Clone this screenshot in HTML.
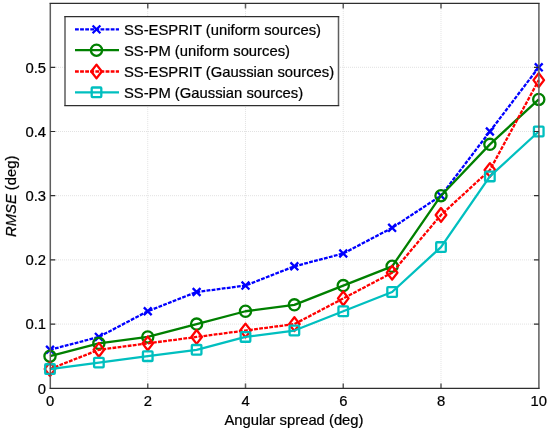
<!DOCTYPE html>
<html><head><meta charset="utf-8"><style>
html,body{margin:0;padding:0;background:#fff;}
svg{display:block;}
text{font-family:"Liberation Sans",Arial,sans-serif;font-size:14.8px;fill:#000;stroke:#000;stroke-width:0.22px;}
</style></head><body>
<svg width="550" height="431" viewBox="0 0 550 431">
<rect width="550" height="431" fill="#fff"/>
<g stroke="#e2e2e2" stroke-width="1" stroke-dasharray="1 1"><line x1="147.75" y1="3.1" x2="147.75" y2="388.3"/><line x1="245.50" y1="3.1" x2="245.50" y2="388.3"/><line x1="343.25" y1="3.1" x2="343.25" y2="388.3"/><line x1="441.00" y1="3.1" x2="441.00" y2="388.3"/><line x1="50.0" y1="324.10" x2="538.75" y2="324.10"/><line x1="50.0" y1="259.90" x2="538.75" y2="259.90"/><line x1="50.0" y1="195.70" x2="538.75" y2="195.70"/><line x1="50.0" y1="131.50" x2="538.75" y2="131.50"/><line x1="50.0" y1="67.30" x2="538.75" y2="67.30"/></g>
<polyline points="50.00,349.78 98.88,336.94 147.75,311.26 196.62,292.00 245.50,285.58 294.38,266.32 343.25,253.48 392.12,227.80 441.00,195.70 489.88,131.50 538.75,67.30" fill="none" stroke="#0000ff" stroke-width="2.3" stroke-dasharray="3.8 1.3" stroke-linejoin="round"/>
<path d="M46.10,345.88L53.90,353.68M46.10,353.68L53.90,345.88" stroke="#0000ff" stroke-width="2.3" fill="none"/>
<path d="M94.97,333.04L102.78,340.84M94.97,340.84L102.78,333.04" stroke="#0000ff" stroke-width="2.3" fill="none"/>
<path d="M143.85,307.36L151.65,315.16M143.85,315.16L151.65,307.36" stroke="#0000ff" stroke-width="2.3" fill="none"/>
<path d="M192.72,288.10L200.53,295.90M192.72,295.90L200.53,288.10" stroke="#0000ff" stroke-width="2.3" fill="none"/>
<path d="M241.60,281.68L249.40,289.48M241.60,289.48L249.40,281.68" stroke="#0000ff" stroke-width="2.3" fill="none"/>
<path d="M290.48,262.42L298.27,270.22M290.48,270.22L298.27,262.42" stroke="#0000ff" stroke-width="2.3" fill="none"/>
<path d="M339.35,249.58L347.15,257.38M339.35,257.38L347.15,249.58" stroke="#0000ff" stroke-width="2.3" fill="none"/>
<path d="M388.23,223.90L396.02,231.70M388.23,231.70L396.02,223.90" stroke="#0000ff" stroke-width="2.3" fill="none"/>
<path d="M437.10,191.80L444.90,199.60M437.10,199.60L444.90,191.80" stroke="#0000ff" stroke-width="2.3" fill="none"/>
<path d="M485.98,127.60L493.77,135.40M485.98,135.40L493.77,127.60" stroke="#0000ff" stroke-width="2.3" fill="none"/>
<path d="M534.85,63.40L542.65,71.20M534.85,71.20L542.65,63.40" stroke="#0000ff" stroke-width="2.3" fill="none"/>
<polyline points="50.00,356.20 98.88,343.36 147.75,336.94 196.62,324.10 245.50,311.26 294.38,304.84 343.25,285.58 392.12,266.32 441.00,195.70 489.88,144.34 538.75,99.40" fill="none" stroke="#008000" stroke-width="2.3" stroke-linejoin="round"/>
<circle cx="50.00" cy="356.20" r="5.6" stroke="#008000" stroke-width="2.3" fill="none"/>
<circle cx="98.88" cy="343.36" r="5.6" stroke="#008000" stroke-width="2.3" fill="none"/>
<circle cx="147.75" cy="336.94" r="5.6" stroke="#008000" stroke-width="2.3" fill="none"/>
<circle cx="196.62" cy="324.10" r="5.6" stroke="#008000" stroke-width="2.3" fill="none"/>
<circle cx="245.50" cy="311.26" r="5.6" stroke="#008000" stroke-width="2.3" fill="none"/>
<circle cx="294.38" cy="304.84" r="5.6" stroke="#008000" stroke-width="2.3" fill="none"/>
<circle cx="343.25" cy="285.58" r="5.6" stroke="#008000" stroke-width="2.3" fill="none"/>
<circle cx="392.12" cy="266.32" r="5.6" stroke="#008000" stroke-width="2.3" fill="none"/>
<circle cx="441.00" cy="195.70" r="5.6" stroke="#008000" stroke-width="2.3" fill="none"/>
<circle cx="489.88" cy="144.34" r="5.6" stroke="#008000" stroke-width="2.3" fill="none"/>
<circle cx="538.75" cy="99.40" r="5.6" stroke="#008000" stroke-width="2.3" fill="none"/>
<polyline points="50.00,369.04 98.88,349.78 147.75,343.36 196.62,336.94 245.50,330.52 294.38,324.10 343.25,298.42 392.12,272.74 441.00,214.96 489.88,170.02 538.75,80.14" fill="none" stroke="#ff0000" stroke-width="2.3" stroke-dasharray="3.8 1.3" stroke-linejoin="round"/>
<path d="M50.00,362.14L55.30,369.04L50.00,375.94L44.70,369.04Z" stroke="#ff0000" stroke-width="2.3" fill="none" stroke-linejoin="round"/>
<path d="M98.88,342.88L104.17,349.78L98.88,356.68L93.58,349.78Z" stroke="#ff0000" stroke-width="2.3" fill="none" stroke-linejoin="round"/>
<path d="M147.75,336.46L153.05,343.36L147.75,350.26L142.45,343.36Z" stroke="#ff0000" stroke-width="2.3" fill="none" stroke-linejoin="round"/>
<path d="M196.62,330.04L201.93,336.94L196.62,343.84L191.32,336.94Z" stroke="#ff0000" stroke-width="2.3" fill="none" stroke-linejoin="round"/>
<path d="M245.50,323.62L250.80,330.52L245.50,337.42L240.20,330.52Z" stroke="#ff0000" stroke-width="2.3" fill="none" stroke-linejoin="round"/>
<path d="M294.38,317.20L299.68,324.10L294.38,331.00L289.07,324.10Z" stroke="#ff0000" stroke-width="2.3" fill="none" stroke-linejoin="round"/>
<path d="M343.25,291.52L348.55,298.42L343.25,305.32L337.95,298.42Z" stroke="#ff0000" stroke-width="2.3" fill="none" stroke-linejoin="round"/>
<path d="M392.12,265.84L397.43,272.74L392.12,279.64L386.82,272.74Z" stroke="#ff0000" stroke-width="2.3" fill="none" stroke-linejoin="round"/>
<path d="M441.00,208.06L446.30,214.96L441.00,221.86L435.70,214.96Z" stroke="#ff0000" stroke-width="2.3" fill="none" stroke-linejoin="round"/>
<path d="M489.88,163.12L495.18,170.02L489.88,176.92L484.57,170.02Z" stroke="#ff0000" stroke-width="2.3" fill="none" stroke-linejoin="round"/>
<path d="M538.75,73.24L544.05,80.14L538.75,87.04L533.45,80.14Z" stroke="#ff0000" stroke-width="2.3" fill="none" stroke-linejoin="round"/>
<polyline points="50.00,369.04 98.88,362.62 147.75,356.20 196.62,349.78 245.50,336.94 294.38,330.52 343.25,311.26 392.12,292.00 441.00,247.06 489.88,176.44 538.75,131.50" fill="none" stroke="#00bfbf" stroke-width="2.3" stroke-linejoin="round"/>
<rect x="45.20" y="364.24" width="9.60" height="9.60" stroke="#00bfbf" stroke-width="2.3" fill="none" rx="0.8"/>
<rect x="94.08" y="357.82" width="9.60" height="9.60" stroke="#00bfbf" stroke-width="2.3" fill="none" rx="0.8"/>
<rect x="142.95" y="351.40" width="9.60" height="9.60" stroke="#00bfbf" stroke-width="2.3" fill="none" rx="0.8"/>
<rect x="191.82" y="344.98" width="9.60" height="9.60" stroke="#00bfbf" stroke-width="2.3" fill="none" rx="0.8"/>
<rect x="240.70" y="332.14" width="9.60" height="9.60" stroke="#00bfbf" stroke-width="2.3" fill="none" rx="0.8"/>
<rect x="289.57" y="325.72" width="9.60" height="9.60" stroke="#00bfbf" stroke-width="2.3" fill="none" rx="0.8"/>
<rect x="338.45" y="306.46" width="9.60" height="9.60" stroke="#00bfbf" stroke-width="2.3" fill="none" rx="0.8"/>
<rect x="387.32" y="287.20" width="9.60" height="9.60" stroke="#00bfbf" stroke-width="2.3" fill="none" rx="0.8"/>
<rect x="436.20" y="242.26" width="9.60" height="9.60" stroke="#00bfbf" stroke-width="2.3" fill="none" rx="0.8"/>
<rect x="485.07" y="171.64" width="9.60" height="9.60" stroke="#00bfbf" stroke-width="2.3" fill="none" rx="0.8"/>
<rect x="533.95" y="126.70" width="9.60" height="9.60" stroke="#00bfbf" stroke-width="2.3" fill="none" rx="0.8"/>
<path d="M147.75,388.4V383.4M147.75,3.4V8.4M245.50,388.4V383.4M245.50,3.4V8.4M343.25,388.4V383.4M343.25,3.4V8.4M441.00,388.4V383.4M441.00,3.4V8.4M50.3,3.4V388.4M538.9,3.4V388.4" stroke="#5e5e5e" stroke-width="1.5" fill="none"/>
<path d="M50.3,324.10H55.3M538.9,324.10H533.9M50.3,259.90H55.3M538.9,259.90H533.9M50.3,195.70H55.3M538.9,195.70H533.9M50.3,131.50H55.3M538.9,131.50H533.9M50.3,67.30H55.3M538.9,67.30H533.9M49.55,3.4H539.65M49.55,388.4H539.65" stroke="#2e2e2e" stroke-width="1.2" fill="none"/>
<g><text x="50.00" y="406.3" text-anchor="middle">0</text><text x="147.75" y="406.3" text-anchor="middle">2</text><text x="245.50" y="406.3" text-anchor="middle">4</text><text x="343.25" y="406.3" text-anchor="middle">6</text><text x="441.00" y="406.3" text-anchor="middle">8</text><text x="538.75" y="406.3" text-anchor="middle">10</text><text x="46.1" y="393.50" text-anchor="end">0</text><text x="46.1" y="329.30" text-anchor="end">0.1</text><text x="46.1" y="265.10" text-anchor="end">0.2</text><text x="46.1" y="200.90" text-anchor="end">0.3</text><text x="46.1" y="136.70" text-anchor="end">0.4</text><text x="46.1" y="72.50" text-anchor="end">0.5</text></g>
<text x="294" y="424.8" text-anchor="middle">Angular spread (deg)</text>
<text transform="translate(15.6,196.3) rotate(-90)" text-anchor="middle"><tspan font-style="italic">RMSE</tspan> (deg)</text>
<g><rect x="65" y="16.6" width="273.5" height="89" fill="#fff"/><path d="M65,16.6V105.6M338.5,16.6V105.6" stroke="#5e5e5e" stroke-width="1.5" fill="none"/><path d="M64.25,16.6H339.25M64.25,105.6H339.25" stroke="#2e2e2e" stroke-width="1.2" fill="none"/><line x1="75" y1="29.4" x2="119" y2="29.4" stroke="#0000ff" stroke-width="2.3" stroke-dasharray="3.8 1.3"/><path d="M92.60,25.50L100.40,33.30M92.60,33.30L100.40,25.50" stroke="#0000ff" stroke-width="2.3" fill="none"/><text x="123.9" y="35.00">SS-ESPRIT (uniform sources)</text><line x1="75" y1="50.2" x2="119" y2="50.2" stroke="#008000" stroke-width="2.3"/><circle cx="96.50" cy="50.20" r="5.6" stroke="#008000" stroke-width="2.3" fill="none"/><text x="123.9" y="55.80">SS-PM (uniform sources)</text><line x1="75" y1="71.5" x2="119" y2="71.5" stroke="#ff0000" stroke-width="2.3" stroke-dasharray="3.8 1.3"/><path d="M96.50,64.60L101.80,71.50L96.50,78.40L91.20,71.50Z" stroke="#ff0000" stroke-width="2.3" fill="none" stroke-linejoin="round"/><text x="123.9" y="77.10">SS-ESPRIT (Gaussian sources)</text><line x1="75" y1="92.3" x2="119" y2="92.3" stroke="#00bfbf" stroke-width="2.3"/><rect x="91.70" y="87.50" width="9.60" height="9.60" stroke="#00bfbf" stroke-width="2.3" fill="none" rx="0.8"/><text x="123.9" y="97.90">SS-PM (Gaussian sources)</text></g>
</svg>
</body></html>
